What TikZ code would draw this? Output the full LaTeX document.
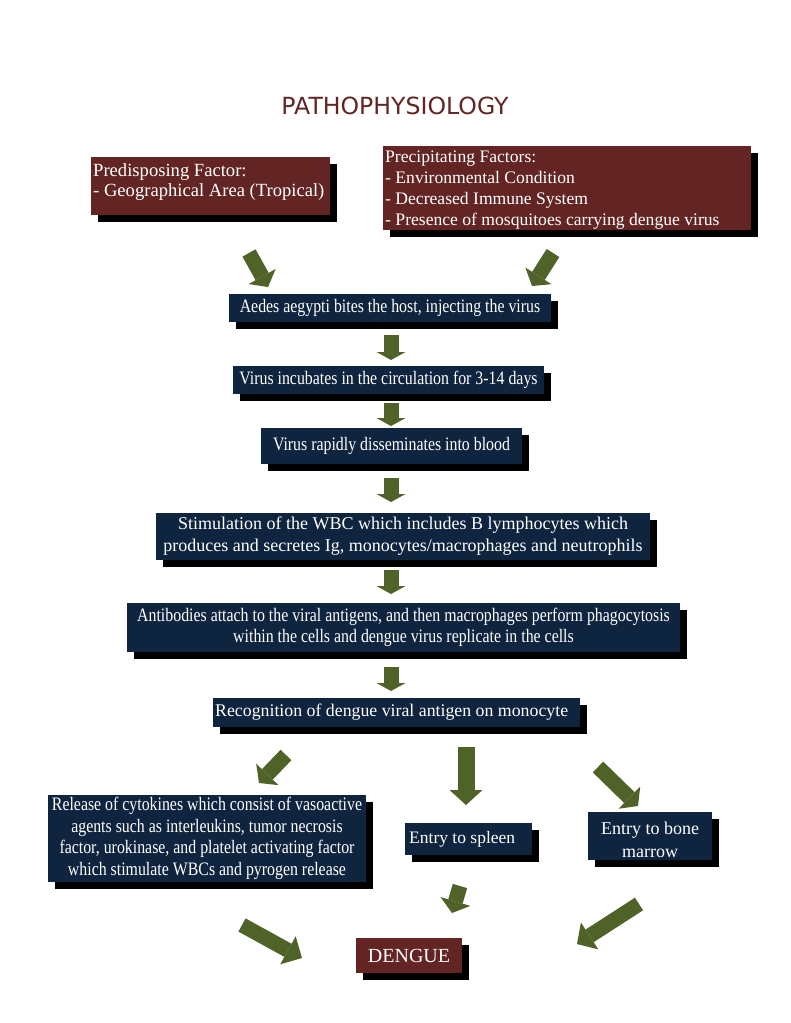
\documentclass[tikz,border=0pt]{standalone}
\usepackage{fontspec}
\setmainfont{Liberation Serif}
\newfontfamily\condfont{Liberation Serif}[FakeStretch=0.835]
\newfontfamily\titlefont{DejaVu Sans}
\usetikzlibrary{arrows.meta,shadows}
\definecolor{boxred}{HTML}{632523}
\definecolor{boxblue}{HTML}{0F243E}
\definecolor{arrgreen}{HTML}{4F6228}
\tikzset{
  basebox/.style={draw=none, text=white, inner sep=0pt,
    general shadow={fill=black, shadow xshift=7pt, shadow yshift=-7pt}},
  redbox/.style={basebox, fill=boxred},
  bluebox/.style={basebox, fill=boxblue},
  plaintext/.style={text=white, inner sep=0pt},
  nfont/.style={font=\fontsize{18}{20}\selectfont},
  cfont/.style={font=\condfont\fontsize{19}{21}\selectfont},
  smallarrow/.style={draw=arrgreen, line width=15pt,
    -{Triangle[length=8pt,width=29pt,line width=0pt]}},
  bigarrow/.style={draw=arrgreen, line width=15pt,
    -{Triangle[length=12pt,width=31pt,line width=0pt]}},
}
\begin{document}
\begin{tikzpicture}[x=1pt,y=-1pt]
\fill[white] (0,0) rectangle (791,1023);
\useasboundingbox (0,0) rectangle (791,1023);

% title
\node[font=\titlefont\fontsize{23.6}{28}\selectfont, text=boxred, inner sep=0pt] (title) at (395,106) {PATHOPHYSIOLOGY};

% top boxes
\node[redbox, minimum width=239pt, minimum height=58pt] (pre) at (210.5,186) {};
\node[plaintext, font=\fontsize{18.6}{20}\selectfont, align=left, anchor=west] (pretext) at (93,182)
  {Predisposing Factor:\\- Geographical Area (Tropical)};

\node[redbox, minimum width=368pt, minimum height=84pt] (prec) at (567,188) {};
\node[plaintext, font=\fontsize{17.6}{21}\selectfont, align=left, anchor=west] (prectext) at (385,190)
  {Precipitating Factors:\\- Environmental Condition\\- Decreased Immune System\\- Presence of mosquitoes carrying dengue virus};

% chain
\node[bluebox, cfont, minimum width=322pt, minimum height=28pt] (aedes) at (390,308)
  {Aedes aegypti bites the host, injecting the virus};
\node[bluebox, cfont, minimum width=311pt, minimum height=28pt] (incub) at (388.5,380)
  {Virus incubates in the circulation for 3-14 days};
\node[bluebox, cfont, minimum width=261pt, minimum height=36pt] (dissem) at (391.5,446)
  {Virus rapidly disseminates into blood};
\node[bluebox, align=center, font=\fontsize{18}{22}\selectfont, minimum width=494pt, minimum height=47pt] (stim) at (403,536.5)
  {Stimulation of the WBC which includes B lymphocytes which\\produces and secretes Ig, monocytes/macrophages and neutrophils};
\node[bluebox, align=center, font=\condfont\fontsize{19}{21}\selectfont, minimum width=553pt, minimum height=49pt] (antib) at (403.5,627.5)
  {Antibodies attach to the viral antigens, and then macrophages perform phagocytosis\\within the cells and dengue virus replicate in the cells};
\node[bluebox, minimum width=367pt, minimum height=29pt] (recog) at (396.5,712.5) {};
\node[plaintext, font=\fontsize{17.8}{20}\selectfont, anchor=west] (recogtext) at (215,712.5)
  {Recognition of dengue viral antigen on monocyte};

% branches
\node[bluebox, align=center, font=\condfont\fontsize{19}{21.5}\selectfont, minimum width=318pt, minimum height=87pt] (cyto) at (207,838.5)
  {Release of cytokines which consist of vasoactive\\agents such as interleukins, tumor necrosis\\factor, urokinase, and platelet activating factor\\which stimulate WBCs and pyrogen release};
\node[bluebox, minimum width=127pt, minimum height=32pt] (spleen) at (468.5,839) {};
\node[plaintext, font=\fontsize{17.5}{20}\selectfont, anchor=west] (spleentext) at (409,839)
  {Entry to spleen};
\node[bluebox, minimum width=124pt, minimum height=48pt] (bone) at (650,836) {};
\node[plaintext, align=center, font=\fontsize{18}{23}\selectfont] (bonetext) at (650,840)
  {Entry to bone\\marrow};

\node[redbox, font=\fontsize{20}{24}\selectfont, minimum width=106pt, minimum height=35pt] (dengue) at (409,955.5)
  {DENGUE};

% arrow coordinates
\coordinate (a1s) at (249,253); \coordinate (a1e) at (268,287);
\coordinate (a2s) at (553,253); \coordinate (a2e) at (532,286);
\coordinate (a3s) at (391,335); \coordinate (a3e) at (391,360);
\coordinate (a4s) at (391,403); \coordinate (a4e) at (391,426);
\coordinate (a5s) at (391,478); \coordinate (a5e) at (391,502);
\coordinate (a6s) at (391,570); \coordinate (a6e) at (391,594);
\coordinate (a7s) at (391,667); \coordinate (a7e) at (391,691);
\coordinate (b1s) at (286,755); \coordinate (b1e) at (259,783);
\coordinate (b2s) at (466,747); \coordinate (b2e) at (466,805);
\coordinate (b3s) at (598,767); \coordinate (b3e) at (638,806);
\coordinate (c1s) at (460,886); \coordinate (c1e) at (452,913);
\coordinate (c2s) at (242,925); \coordinate (c2e) at (302,958);
\coordinate (c3s) at (639,904); \coordinate (c3e) at (577,944);

\draw[bigarrow] (a1s) -- (a1e);
\draw[bigarrow] (a2s) -- (a2e);
\draw[smallarrow] (a3s) -- (a3e);
\draw[smallarrow] (a4s) -- (a4e);
\draw[smallarrow] (a5s) -- (a5e);
\draw[smallarrow] (a6s) -- (a6e);
\draw[smallarrow] (a7s) -- (a7e);
\draw[bigarrow] (b1s) -- (b1e);
\draw[bigarrow, line width=17pt, -{Triangle[length=15pt,width=33pt,line width=0pt]}] (b2s) -- (b2e);
\draw[bigarrow] (b3s) -- (b3e);
\draw[bigarrow] (c1s) -- (c1e);
\draw[bigarrow, -{Triangle[length=16pt,width=32pt,line width=0pt]}] (c2s) -- (c2e);
\draw[bigarrow, -{Triangle[length=15pt,width=32pt,line width=0pt]}] (c3s) -- (c3e);
\end{tikzpicture}
\end{document}
